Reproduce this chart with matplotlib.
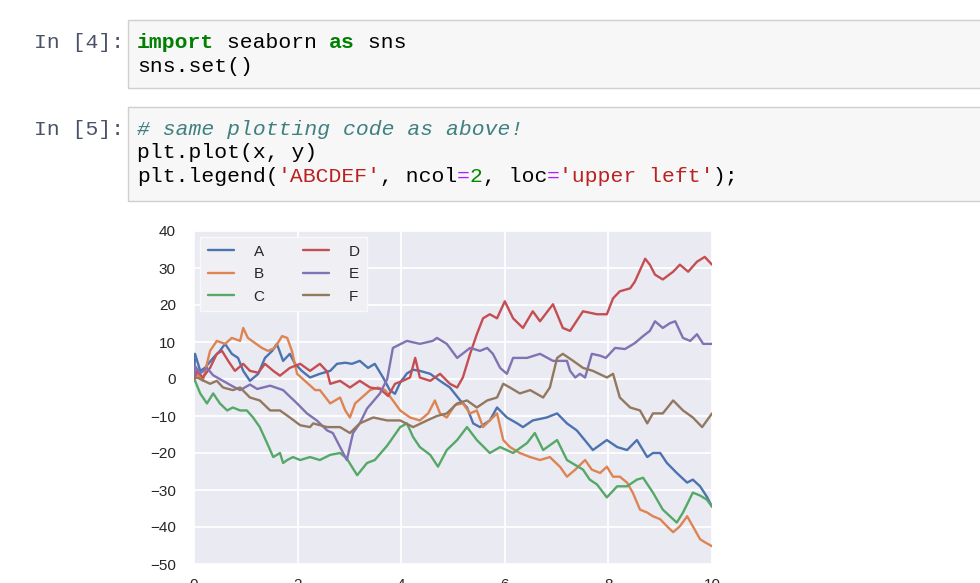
import matplotlib.pyplot as plt
import seaborn as sns
from matplotlib.patches import Rectangle

# random-walk values, one x/y pair per series
a_x = [0.00, 0.02, 0.12, 0.21, 0.37, 0.50, 0.60, 0.73, 0.85, 0.95, 1.08, 1.24, 1.37, 1.51, 1.60,
       1.72, 1.85, 1.95, 2.08, 2.24, 2.43, 2.63, 2.76, 2.92, 3.05, 3.20, 3.36, 3.49, 3.65, 3.78,
       3.88, 3.98, 4.11, 4.23, 4.36, 4.56, 4.75, 4.94, 5.14, 5.27, 5.39, 5.52, 5.71, 5.85, 6.04,
       6.24, 6.35, 6.54, 6.81, 7.01, 7.20, 7.39, 7.59, 7.70, 7.97, 8.17, 8.36, 8.55, 8.75, 8.86,
       9.00, 9.13, 9.32, 9.52, 9.63, 9.77, 9.90, 10.0]
a_y = [0.0, 6.8, 2.2, 3.0, 5.7, 7.6, 9.5, 6.8, 5.7, 2.2, -0.5, 1.4, 5.7, 7.6, 9.5,
       4.9, 6.8, 4.1, 2.2, 0.4, 1.4, 2.2, 4.1, 4.4, 4.1, 4.9, 3.0, 4.1, 0.4, -3.0,
       -4.0, -1.0, 1.5, 2.5, 2.2, 1.4, -0.5, -2.3, -5.8, -7.7, -12.0, -13.0, -11.2, -7.7, -10.4,
       -12.0, -13.0, -11.2, -10.4, -9.3, -12.0, -13.9, -17.3, -19.2, -16.5, -18.4, -19.2, -16.5, -21.1, -20.0,
       -20.0, -22.7, -25.4, -28.0, -27.2, -29.0, -31.8, -34.5]

b_x = [0.00, 0.06, 0.17, 0.31, 0.44, 0.60, 0.73, 0.89, 0.95, 1.04, 1.18, 1.31, 1.43, 1.56, 1.70,
       1.80, 1.89, 1.99, 2.14, 2.34, 2.43, 2.63, 2.82, 2.92, 3.01, 3.11, 3.24, 3.40, 3.55, 3.69,
       3.84, 3.98, 4.17, 4.36, 4.52, 4.65, 4.75, 4.88, 5.04, 5.19, 5.33, 5.46, 5.58, 5.71, 5.85,
       5.97, 6.10, 6.29, 6.49, 6.68, 6.87, 7.07, 7.20, 7.36, 7.55, 7.68, 7.84, 7.97, 8.09, 8.22,
       8.36, 8.47, 8.61, 8.75, 8.86, 9.00, 9.13, 9.25, 9.38, 9.52, 9.63, 9.77, 9.86, 10.0]
b_y = [0.0, 1.4, -0.5, 7.6, 10.3, 9.5, 11.1, 10.3, 13.8, 11.1, 9.7, 8.4, 7.6, 8.4, 11.6,
       11.1, 7.6, 1.4, -0.5, -3.0, -3.0, -6.6, -5.0, -8.5, -10.4, -6.6, -5.0, -3.0, -2.3, -3.0,
       -5.8, -8.5, -10.4, -11.2, -9.3, -5.8, -9.3, -10.4, -7.0, -6.6, -9.3, -8.5, -13.0, -11.2, -9.3,
       -16.5, -18.4, -20.0, -21.1, -21.9, -21.1, -23.8, -26.4, -24.5, -21.9, -24.5, -25.4, -23.7, -26.4, -26.4,
       -28.0, -30.7, -35.3, -36.1, -37.1, -37.9, -39.8, -41.4, -39.8, -37.1, -39.8, -43.3, -44.1, -45.2]

c_x = [0.00, 0.02, 0.12, 0.25, 0.37, 0.50, 0.64, 0.75, 0.89, 1.02, 1.14, 1.27, 1.41, 1.53, 1.66,
       1.72, 1.80, 1.91, 2.05, 2.24, 2.43, 2.63, 2.82, 2.95, 3.15, 3.34, 3.49, 3.73, 3.98, 4.11,
       4.23, 4.36, 4.56, 4.71, 4.88, 5.08, 5.27, 5.46, 5.71, 5.91, 6.16, 6.43, 6.58, 6.74, 7.01,
       7.20, 7.51, 7.64, 7.78, 7.97, 8.17, 8.36, 8.55, 8.67, 8.86, 9.05, 9.32, 9.44, 9.63, 9.77,
       9.90, 10.0]
c_y = [0.0, -0.5, -3.9, -6.6, -3.9, -6.6, -8.5, -7.7, -8.5, -8.5, -10.4, -13.0, -17.3, -21.1, -20.0,
       -22.7, -21.9, -21.1, -21.9, -21.1, -21.9, -20.5, -20.0, -21.5, -26.0, -22.7, -21.9, -18.0, -13.0, -12.0,
       -15.7, -18.4, -20.5, -23.7, -19.2, -16.5, -13.0, -16.5, -20.0, -18.4, -20.0, -17.3, -14.6, -19.2, -16.5,
       -21.9, -24.5, -27.2, -28.5, -32.0, -29.0, -29.0, -27.2, -26.7, -30.7, -35.3, -38.8, -36.1, -30.7, -31.5,
       -32.6, -34.5]

d_x = [0.00, 0.06, 0.17, 0.31, 0.44, 0.54, 0.66, 0.79, 0.95, 1.08, 1.24, 1.37, 1.53, 1.66, 1.85,
       2.05, 2.24, 2.43, 2.57, 2.63, 2.82, 3.01, 3.20, 3.40, 3.59, 3.75, 3.88, 4.03, 4.17, 4.27,
       4.36, 4.56, 4.75, 4.94, 5.08, 5.19, 5.33, 5.46, 5.58, 5.71, 5.85, 6.00, 6.16, 6.35, 6.54,
       6.68, 6.93, 7.12, 7.26, 7.51, 7.78, 7.97, 8.09, 8.22, 8.42, 8.51, 8.71, 8.80, 8.90, 9.05,
       9.25, 9.38, 9.54, 9.71, 9.86, 10.0]
d_y = [0.0, 2.2, 0.4, 3.0, 6.8, 7.6, 4.9, 2.2, 4.1, 2.2, 1.7, 4.1, 2.2, 0.9, 3.0,
       4.1, 2.2, 4.1, 2.0, -1.3, -0.5, -2.3, -0.5, -2.3, -2.7, -4.6, -1.3, -0.5, 0.4, 5.7,
       0.4, -0.5, 1.4, -1.3, -2.3, 0.4, 6.8, 12.1, 16.4, 17.5, 16.4, 21.0, 16.4, 13.8, 18.3,
       15.6, 20.2, 13.8, 13.0, 18.3, 17.5, 17.5, 21.8, 23.7, 24.5, 26.3, 32.5, 30.9, 28.2, 26.9,
       29.0, 30.9, 29.0, 31.7, 33.0, 30.9]

e_x = [0.00, 0.02, 0.12, 0.25, 0.37, 0.56, 0.75, 0.89, 1.08, 1.22, 1.47, 1.72, 1.99, 2.18, 2.37,
       2.57, 2.68, 2.88, 2.95, 3.07, 3.20, 3.34, 3.59, 3.73, 3.84, 4.11, 4.36, 4.61, 4.69, 4.88,
       5.08, 5.33, 5.52, 5.66, 5.77, 5.91, 6.04, 6.16, 6.43, 6.68, 6.93, 7.20, 7.26, 7.36, 7.45,
       7.55, 7.68, 7.84, 7.95, 8.13, 8.32, 8.51, 8.67, 8.80, 8.90, 9.05, 9.19, 9.29, 9.44, 9.58,
       9.71, 9.83, 10.0]
e_y = [0.0, 3.5, 1.5, 3.0, 1.0, -0.5, -2.0, -3.0, -1.5, -2.7, -1.8, -3.0, -6.6, -9.3, -11.2,
       -13.9, -14.6, -20.0, -21.9, -14.6, -12.0, -8.0, -3.9, 0.0, 8.4, 10.3, 9.5, 10.3, 11.1, 9.5,
       5.7, 8.4, 7.6, 8.4, 6.8, 3.0, 1.4, 5.7, 5.7, 6.8, 4.9, 4.9, 2.2, 0.4, 1.4,
       0.4, 6.8, 6.3, 5.7, 8.4, 8.1, 9.7, 11.6, 13.0, 15.6, 13.8, 15.1, 15.6, 11.1, 10.3,
       12.1, 9.5, 9.5]

f_x = [0.00, 0.06, 0.31, 0.44, 0.56, 0.75, 0.89, 1.08, 1.27, 1.47, 1.66, 1.85, 2.05, 2.24, 2.30,
       2.57, 2.82, 3.01, 3.20, 3.46, 3.73, 3.98, 4.23, 4.50, 4.69, 4.88, 5.08, 5.27, 5.46, 5.66,
       5.85, 5.97, 6.10, 6.29, 6.49, 6.74, 6.87, 7.01, 7.12, 7.32, 7.51, 7.70, 7.97, 8.09, 8.22,
       8.42, 8.61, 8.75, 8.86, 9.05, 9.25, 9.44, 9.63, 9.81, 10.0]
f_y = [0.0, 0.4, -1.3, -0.5, -2.3, -3.0, -2.3, -5.0, -5.8, -8.5, -8.5, -10.4, -12.5, -13.0, -12.0,
       -13.0, -13.0, -14.6, -12.0, -10.4, -11.2, -11.2, -13.0, -11.2, -10.0, -9.3, -6.6, -5.8, -7.7, -5.8,
       -5.0, -1.3, -2.3, -3.9, -3.0, -5.0, -2.3, 5.7, 6.8, 4.9, 3.0, 2.2, 0.4, 1.4, -5.0,
       -7.7, -8.5, -12.0, -9.3, -9.3, -5.8, -8.5, -10.4, -13.0, -9.3]

series_x = [a_x, b_x, c_x, d_x, e_x, f_x]
series_y = [a_y, b_y, c_y, d_y, e_y, f_y]
labels = ['A', 'B', 'C', 'D', 'E', 'F']
colors = ['#4C72B0', '#DD8452', '#55A868', '#C44E52', '#8172B3', '#937860']
x_ticks = [0, 2, 4, 6, 8, 10]
y_ticks = [-50, -40, -30, -20, -10, 0, 10, 20, 30, 40]

# notebook cells: (prompt, [line, ...]) with each line a list of (text, colour, weight, style)
KW, STR, OP, NUM, COM, TXT = '#008000', '#BA2121', '#AA22FF', '#008800', '#408080', '#000000'
cells = [
    ('In [4]:', [
        [('import', KW, 'bold', 'normal'), (' seaborn ', TXT, 'normal', 'normal'),
         ('as', KW, 'bold', 'normal'), (' sns', TXT, 'normal', 'normal')],
        [('sns.set()', TXT, 'normal', 'normal')],
    ]),
    ('In [5]:', [
        [('# same plotting code as above!', COM, 'normal', 'italic')],
        [('plt.plot(x, y)', TXT, 'normal', 'normal')],
        [('plt.legend(', TXT, 'normal', 'normal'), ("'ABCDEF'", STR, 'normal', 'normal'),
         (', ncol', TXT, 'normal', 'normal'), ('=', OP, 'normal', 'normal'),
         ('2', NUM, 'normal', 'normal'), (', loc', TXT, 'normal', 'normal'),
         ('=', OP, 'normal', 'normal'), ("'upper left'", STR, 'normal', 'normal'),
         (');', TXT, 'normal', 'normal')],
    ]),
]

W, H = 980, 583
MONO = 'Liberation Mono'
CW = 12.8                      # px per monospace character
MONO_SIZE = CW / 0.6 * 72 / 100


def fx(px):
    return px / W


def fy(py):
    return 1 - py / H


sns.set_theme(style='darkgrid')
plt.rcParams['font.family'] = ['Liberation Sans', 'DejaVu Sans']

fig = plt.figure(figsize=(W / 100, H / 100), dpi=100)
fig.patch.set_facecolor('white')

# code cells
box_tops = [20, 107]
box_bottoms = [88, 201]
first_baselines = [48, 135]
LINE_H = 23.5
for (prompt, lines), top, bottom, base in zip(cells, box_tops, box_bottoms, first_baselines):
    fig.patches.append(Rectangle((fx(128), fy(bottom)), fx(W + 10 - 128), (bottom - top) / H,
                                 transform=fig.transFigure, facecolor='#F7F7F7',
                                 edgecolor='#CFCFCF', linewidth=1))
    fig.text(fx(124), fy(base), prompt, family=MONO, fontsize=MONO_SIZE,
             color='#4B5268', ha='right', va='baseline')
    for i, line in enumerate(lines):
        col = 0
        for text, color, weight, style in line:
            fig.text(fx(137 + col * CW), fy(base + i * LINE_H), text, family=MONO,
                     fontsize=MONO_SIZE, color=color, fontweight=weight,
                     fontstyle=style, ha='left', va='baseline')
            col += len(text)

# the chart
ax = fig.add_axes([fx(194), fy(564), (712 - 194) / W, (564 - 231) / H])
ax.set_facecolor('#EAEAF2')
for xs, ys, lab, c in zip(series_x, series_y, labels, colors):
    ax.plot(xs, ys, color=c, lw=1.7, label=lab)

ax.set_xlim(0, 10)
ax.set_ylim(-50, 40)
ax.set_xticks(x_ticks)
ax.set_yticks(y_ticks)
ax.grid(True, color='white', lw=1.3)
for s in ax.spines.values():
    s.set_visible(False)
ax.tick_params(axis='both', length=0, labelsize=11, labelcolor='#262626')
ax.tick_params(axis='x', pad=10)
ax.tick_params(axis='y', pad=13)

leg = ax.legend(ncol=2, loc='upper left', fontsize=11, handlelength=1.7,
                handletextpad=1.3, columnspacing=2.5, labelspacing=0.55,
                borderpad=0.5, borderaxespad=0.4, frameon=True, fancybox=False)
leg.get_frame().set_facecolor('#EFEFF4')
leg.get_frame().set_edgecolor('#F9F9FB')
leg.get_frame().set_alpha(1)
for t in leg.get_texts():
    t.set_color('#262626')

fig.savefig('out.png', dpi=100)
